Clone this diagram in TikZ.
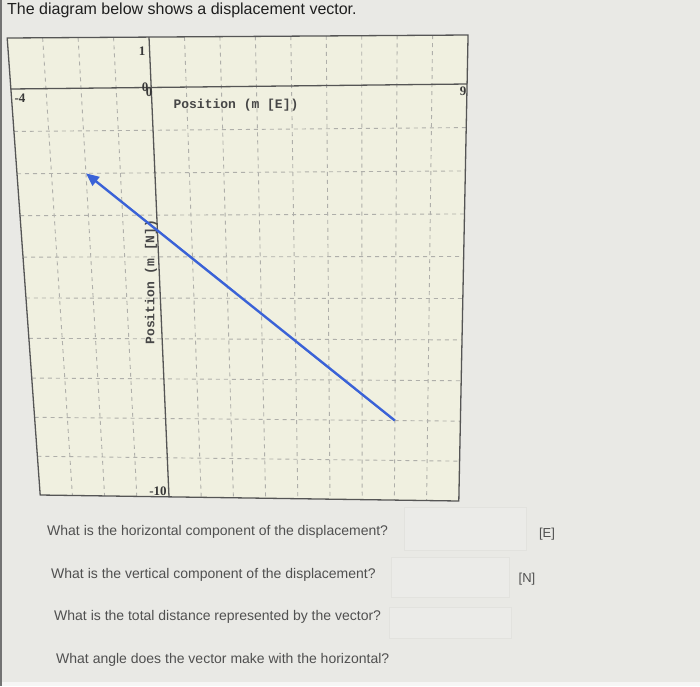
\documentclass[tikz,border=0pt]{standalone}
\usepackage{fontspec}
\setmainfont{Liberation Sans}
\newfontfamily\monob{Liberation Mono}
\newfontfamily\serifb{Liberation Serif}
\usetikzlibrary{arrows.meta}
\definecolor{bgc}{RGB}{233,233,229}
\definecolor{plotc}{RGB}{240,240,224}
\definecolor{framec}{RGB}{85,85,85}
\definecolor{gridc}{RGB}{175,175,170}
\definecolor{vecc}{RGB}{58,98,215}
\definecolor{qtext}{RGB}{80,80,80}
\definecolor{boxc}{RGB}{226,226,222}
\tikzset{
  declare function={
    lpx(\y)=89-40.6*(\y)+6*sin(-18*(\y));
    rpx(\y)=lpx(\y)-5-1.1*(\y);
    tx(\x)=149+35.45*(\x);
    bx(\x)=169+32.2*(\x);
    tt(\y)=(lpx(\y)-38)/457;
    ss(\x)=((\x)+4)/13;
    PX(\x,\y)=tx(\x)+(bx(\x)-tx(\x))*tt(\y);
    PY(\x,\y)=lpx(\y)+(rpx(\y)-lpx(\y))*ss(\x);
  },
  frameline/.style={draw=framec,line width=1.3pt},
  gridline/.style={draw=gridc,line width=0.9pt,dash pattern=on 4pt off 4pt},
  ticklab/.style={font=\serifb\bfseries\fontsize{13}{13}\selectfont,text=black!78,inner sep=0pt},
  axislab/.style={font=\monob\bfseries\fontsize{13}{13}\selectfont,text=black!72,inner sep=0pt},
  question/.style={font=\fontsize{14}{14}\selectfont,text=qtext,inner sep=0pt,anchor=west},
  unitlab/.style={font=\fontsize{13}{13}\selectfont,text=qtext,inner sep=0pt},
  ansbox/.style={draw=boxc,line width=0.5pt,fill=white,fill opacity=0.12},
  vector/.style={draw=vecc,line width=2.4pt,-{Triangle[length=13pt,width=11pt]}}
}
\begin{document}
\begin{tikzpicture}[x=1pt,y=-1pt]
\useasboundingbox (0,0) rectangle (700,686);
\fill[bgc] (0,0) rectangle (700,686);
\fill[white!60!bgc] (0,682) rectangle (700,686);
\draw[black!55,line width=2pt] (1,0) -- (1,686);
% title
\node[font=\fontsize{16}{16}\selectfont,text=black!88,anchor=west,inner sep=0pt] (title) at (7,10) {The diagram below shows a displacement vector.};
% plot frame
\coordinate (TL) at ({tx(-4)},38);
\coordinate (TR) at ({tx(9)},35);
\coordinate (BR) at ({bx(9)},501);
\coordinate (BL) at ({bx(-4)},495);
\fill[plotc] (TL) -- (TR) -- (BR) -- (BL) -- cycle;
% grid
\foreach \gx in {-3,-2,-1,1,2,3,4,5,6,7,8}
  \draw[gridline] ({tx(\gx)},{38-3*ss(\gx)}) -- ({bx(\gx)},{495+6*ss(\gx)});
\foreach \gy in {-1,-2,-3,-4,-5,-6,-7,-8,-9}
  \draw[gridline] ({PX(-4,\gy)},{lpx(\gy)}) -- ({PX(9,\gy)},{rpx(\gy)});
% axes
\coordinate (xl) at ({PX(-4,0)},{lpx(0)});
\coordinate (xr) at ({PX(9,0)},{rpx(0)});
\coordinate (yt) at ({tx(0)},{38-3*ss(0)});
\coordinate (yb) at ({bx(0)},{495+6*ss(0)});
\draw[frameline] (xl) -- (xr);
\draw[frameline] (yt) -- (yb);
\draw[frameline] (TL) -- (TR) -- (BR) -- (BL) -- cycle;
% tick labels
\node[ticklab] (t1) at (142,51) {1};
\node[ticklab] (t0a) at (145,87) {0};
\node[ticklab] (t0b) at (149,92) {0};
\node[ticklab] (tm4) at (20,98) {-4};
\node[ticklab] (t9) at (463,91) {9};
\node[ticklab] (tm10) at (158,491) {-10};
% axis titles
\node[axislab] (xtitle) at (236,105) {Position (m [E])};
\node[axislab,rotate=90] (ytitle) at (151,282) {Position (m [N])};
% displacement vector
\coordinate (tail) at ({PX(7,-8)},{PY(7,-8)});
\coordinate (head) at ({PX(-2,-2)},{PY(-2,-2)});
\draw[vector] (tail) -- (head);
% answer boxes
\draw[ansbox] (404,507) rectangle (526,550);
\draw[ansbox] (391,557) rectangle (509,597);
\draw[ansbox] (389,607) rectangle (511,638);
% questions
\node[question] (q1) at (47,532) {What is the horizontal component of the displacement?};
\node[question] (q2) at (51,575) {What is the vertical component of the displacement?};
\node[question] (q3) at (54,617) {What is the total distance represented by the vector?};
\node[question] (q4) at (56,660) {What angle does the vector make with the horizontal?};
\node[unitlab] (uE) at (547,534) {[E]};
\node[unitlab] (uN) at (527,579) {[N]};
\end{tikzpicture}
\end{document}
